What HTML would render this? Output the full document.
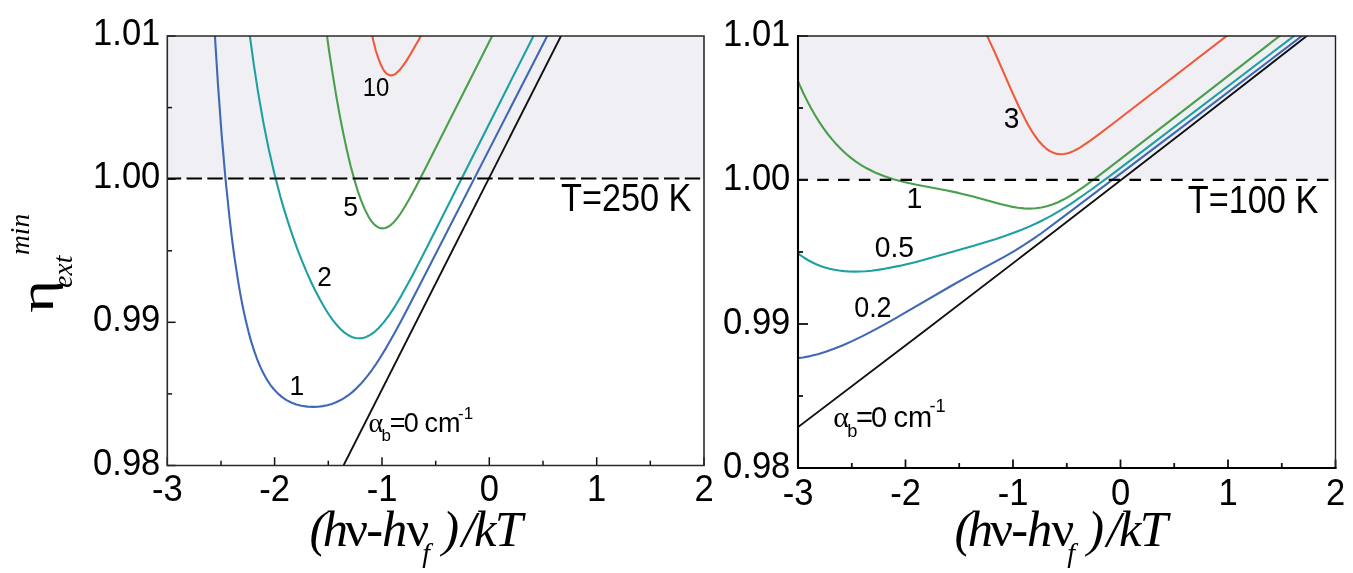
<!DOCTYPE html>
<html><head><meta charset="utf-8"><title>eta_ext min plot</title><style>
html,body{margin:0;padding:0;background:#fff;overflow:hidden;}
svg{display:block;}
.s{font-family:"Liberation Sans",Arial,sans-serif;fill:#000;}
.t{font-family:"Liberation Serif","Times New Roman",serif;fill:#000;}
.i{font-style:italic;}
</style></head><body>
<svg width="1353" height="573" viewBox="0 0 1353 573">
<rect width="1353" height="573" fill="#fff"/>
<rect x="167.3" y="36.0" width="536.7" height="142.5" fill="#efeff4"/>
<clipPath id="cL"><rect x="167.3" y="36.0" width="536.7" height="429.5"/></clipPath>
<g clip-path="url(#cL)" fill="none" stroke-width="2.1" stroke-linejoin="round">
<path d="M214.6 30.9 L218.0 84.9 L221.6 134.2 L225.4 178.0 L229.5 217.7 L231.6 235.7 L233.8 252.5 L236.1 268.2 L238.4 282.8 L240.8 296.6 L243.3 309.2 L245.9 321.1 L248.6 332.1 L251.3 341.9 L254.2 350.9 L257.1 359.2 L260.2 366.6 L263.4 373.3 L266.8 379.4 L270.3 384.8 L274.1 389.5 L278.0 393.6 L282.1 397.1 L286.5 400.1 L291.2 402.5 L296.3 404.4 L301.6 405.8 L307.3 406.6 L313.2 406.9 L318.0 406.7 L322.7 406.1 L327.3 405.2 L331.8 403.9 L336.1 402.3 L340.3 400.3 L344.4 397.9 L348.4 395.2 L352.3 392.1 L356.2 388.6 L360.1 384.6 L364.0 380.2 L367.9 375.4 L371.9 370.0 L376.0 364.1 L380.3 357.5 L386.6 347.1 L393.6 334.8 L401.5 320.2 L411.3 301.6 L550.3 30.0" stroke="#4068b4"/>
<path d="M249.1 30.3 L253.6 63.1 L258.3 93.6 L263.3 122.1 L268.6 148.5 L274.3 173.3 L280.4 196.8 L283.7 208.1 L287.1 219.1 L290.6 229.9 L294.2 240.4 L298.2 251.4 L302.5 262.1 L306.8 272.4 L311.2 282.2 L315.6 291.3 L320.0 299.6 L324.3 307.2 L328.5 314.0 L332.6 319.8 L336.6 324.8 L340.4 329.0 L344.2 332.4 L348.0 335.0 L351.7 336.9 L355.4 338.0 L359.1 338.3 L361.4 338.2 L363.8 337.7 L366.2 336.9 L368.6 335.8 L371.0 334.4 L373.5 332.7 L376.0 330.6 L378.5 328.2 L383.7 322.4 L389.2 315.1 L395.0 306.3 L401.4 295.6 L412.3 275.7 L427.2 246.8 L536.5 30.0" stroke="#1fa0a0"/>
<path d="M326.2 30.1 L329.4 53.0 L332.8 74.9 L336.2 95.6 L339.7 115.2 L343.3 133.4 L346.9 150.2 L350.5 165.4 L354.2 179.1 L357.7 190.8 L361.3 200.9 L364.8 209.4 L368.3 216.3 L370.0 219.2 L371.8 221.6 L373.6 223.7 L375.4 225.4 L377.1 226.7 L378.9 227.7 L380.7 228.2 L382.6 228.4 L385.3 228.0 L388.1 226.8 L391.0 224.8 L394.1 221.9 L397.2 218.1 L400.6 213.5 L404.2 207.8 L408.2 201.0 L415.2 188.3 L424.7 169.7 L495.1 30.1" stroke="#4b9e4b"/>
<path d="M370.9 30.0 L373.4 41.1 L375.8 50.5 L378.3 58.2 L380.7 64.5 L383.2 69.3 L384.4 71.2 L385.7 72.7 L387.0 73.9 L388.3 74.7 L389.6 75.2 L391.0 75.4 L392.3 75.2 L393.7 74.8 L395.1 74.1 L396.5 73.1 L399.6 70.1 L402.9 65.9 L406.6 60.6 L410.9 53.5 L424.3 30.0" stroke="#f05a3c"/>
<path d="M340.8 470.8 L563.6 30.9" stroke="#111" stroke-width="1.9"/>
</g>
<line x1="167.3" y1="178.5" x2="702.5" y2="178.5" stroke="#000" stroke-width="2.2" stroke-dasharray="15.4 5.36" stroke-dashoffset="1.50"/>
<g stroke="#111" stroke-width="1.5"><line x1="167.3" y1="465.5" x2="167.3" y2="457.2"/><line x1="221.0" y1="465.5" x2="221.0" y2="460.7"/><line x1="274.6" y1="465.5" x2="274.6" y2="457.2"/><line x1="328.3" y1="465.5" x2="328.3" y2="460.7"/><line x1="382.0" y1="465.5" x2="382.0" y2="457.2"/><line x1="435.7" y1="465.5" x2="435.7" y2="460.7"/><line x1="489.3" y1="465.5" x2="489.3" y2="457.2"/><line x1="543.0" y1="465.5" x2="543.0" y2="460.7"/><line x1="596.7" y1="465.5" x2="596.7" y2="457.2"/><line x1="650.3" y1="465.5" x2="650.3" y2="460.7"/><line x1="704.0" y1="465.5" x2="704.0" y2="457.2"/><line x1="167.3" y1="465.5" x2="175.6" y2="465.5"/><line x1="167.3" y1="393.9" x2="172.1" y2="393.9"/><line x1="167.3" y1="322.3" x2="175.6" y2="322.3"/><line x1="167.3" y1="250.8" x2="172.1" y2="250.8"/><line x1="167.3" y1="179.2" x2="175.6" y2="179.2"/><line x1="167.3" y1="107.6" x2="172.1" y2="107.6"/><line x1="167.3" y1="36.0" x2="175.6" y2="36.0"/></g>
<path d="M167.3 36.0 H704.0 V465.5" fill="none" stroke="#2a2a2a" stroke-width="1.6"/>
<path d="M167.3 36.0 V465.5 H704.0" fill="none" stroke="#2a2a2a" stroke-width="1.6" stroke-linecap="square"/>
<rect x="798.0" y="36.0" width="537.5" height="143.8" fill="#efeff4"/>
<clipPath id="cR"><rect x="798.0" y="36.0" width="537.5" height="432.0"/></clipPath>
<g clip-path="url(#cR)" fill="none" stroke-width="2.1" stroke-linejoin="round">
<path d="M796.0 76.4 L799.7 85.1 L803.4 93.2 L807.2 100.9 L811.2 108.4 L815.1 115.3 L819.2 121.9 L823.4 128.2 L827.7 134.0 L832.1 139.4 L836.6 144.6 L841.2 149.3 L846.0 153.7 L850.9 157.9 L855.9 161.6 L861.2 165.1 L866.7 168.3 L875.0 172.5 L883.8 176.0 L893.3 179.2 L904.0 182.0 L916.6 184.7 L945.7 190.2 L958.3 192.9 L973.1 196.6 L1000.2 204.1 L1011.0 206.6 L1017.8 207.7 L1024.0 208.4 L1029.9 208.6 L1035.7 208.3 L1041.3 207.5 L1046.8 206.2 L1052.4 204.5 L1058.1 202.2 L1064.0 199.3 L1070.1 195.9 L1076.6 191.7 L1084.1 186.6 L1098.6 175.9 L1125.6 155.2 L1206.3 92.9 L1287.3 30.0" stroke="#4b9e4b"/>
<path d="M796.0 251.9 L799.9 254.8 L803.8 257.5 L807.8 260.0 L812.0 262.2 L816.2 264.2 L820.5 265.9 L825.0 267.4 L829.6 268.7 L834.3 269.7 L839.1 270.5 L844.1 271.1 L849.2 271.5 L854.5 271.6 L859.9 271.5 L865.6 271.2 L871.5 270.7 L877.9 269.9 L884.6 268.8 L899.3 265.9 L916.1 261.9 L937.6 256.0 L973.7 245.7 L996.1 238.9 L1005.4 235.8 L1013.8 232.8 L1021.7 229.8 L1029.1 226.6 L1036.5 223.3 L1043.8 219.7 L1051.0 215.8 L1058.3 211.6 L1065.7 207.1 L1073.4 202.1 L1090.7 190.0 L1110.7 175.3 L1147.6 147.4 L1300.0 31.4" stroke="#1fa0a0"/>
<path d="M796.0 358.4 L802.9 357.5 L810.2 356.1 L817.8 354.2 L825.7 351.7 L834.0 348.8 L842.9 345.2 L852.1 341.1 L862.0 336.4 L875.5 329.4 L890.6 321.1 L905.2 312.7 L951.9 285.5 L969.5 275.6 L1004.6 256.6 L1014.6 250.8 L1023.7 245.2 L1032.1 239.7 L1041.0 233.5 L1065.6 215.2 L1187.0 123.4 L1309.6 30.1" stroke="#4068b4"/>
<path d="M984.2 30.1 L989.1 40.1 L994.5 51.7 L1012.1 91.8 L1018.7 106.2 L1025.5 119.9 L1028.6 125.7 L1031.6 130.8 L1035.4 136.5 L1039.0 141.3 L1042.6 145.3 L1046.2 148.6 L1049.8 151.1 L1053.4 152.8 L1057.1 153.9 L1060.9 154.2 L1063.8 154.0 L1066.8 153.5 L1070.0 152.5 L1073.3 151.1 L1076.9 149.3 L1080.7 147.1 L1089.9 140.9 L1099.5 133.8 L1117.0 120.5 L1234.4 30.0" stroke="#f05a3c"/>
<path d="M796.0 428.7 L924.5 331.0 L1054.3 231.5 L1184.1 131.3 L1313.9 30.4" stroke="#111" stroke-width="1.9"/>
</g>
<line x1="798.0" y1="179.8" x2="1334.0" y2="179.8" stroke="#000" stroke-width="2.2" stroke-dasharray="11.5 9.32" stroke-dashoffset="1.60"/>
<g stroke="#111" stroke-width="1.8"><line x1="798.0" y1="468.0" x2="798.0" y2="459.5"/><line x1="851.8" y1="468.0" x2="851.8" y2="463.0"/><line x1="905.5" y1="468.0" x2="905.5" y2="459.5"/><line x1="959.2" y1="468.0" x2="959.2" y2="463.0"/><line x1="1013.0" y1="468.0" x2="1013.0" y2="459.5"/><line x1="1066.8" y1="468.0" x2="1066.8" y2="463.0"/><line x1="1120.5" y1="468.0" x2="1120.5" y2="459.5"/><line x1="1174.2" y1="468.0" x2="1174.2" y2="463.0"/><line x1="1228.0" y1="468.0" x2="1228.0" y2="459.5"/><line x1="1281.8" y1="468.0" x2="1281.8" y2="463.0"/><line x1="1335.5" y1="468.0" x2="1335.5" y2="459.5"/><line x1="798.0" y1="468.0" x2="808.0" y2="468.0"/><line x1="798.0" y1="396.0" x2="803.0" y2="396.0"/><line x1="798.0" y1="324.0" x2="808.0" y2="324.0"/><line x1="798.0" y1="252.0" x2="803.0" y2="252.0"/><line x1="798.0" y1="180.0" x2="808.0" y2="180.0"/><line x1="798.0" y1="108.0" x2="803.0" y2="108.0"/><line x1="798.0" y1="36.0" x2="808.0" y2="36.0"/></g>
<path d="M798.0 36.0 H1335.5 V468.0" fill="none" stroke="#222" stroke-width="1.4"/>
<path d="M798.0 36.0 V468.0 H1335.5" fill="none" stroke="#000" stroke-width="2.1" stroke-linecap="square"/>
<text class="s" font-size="36.0" text-anchor="end" transform="translate(160.30 474.50) scale(0.960 1)">0.98</text>
<text class="s" font-size="36.0" text-anchor="end" transform="translate(160.30 331.33) scale(0.960 1)">0.99</text>
<text class="s" font-size="36.0" text-anchor="end" transform="translate(160.30 188.17) scale(0.960 1)">1.00</text>
<text class="s" font-size="36.0" text-anchor="end" transform="translate(160.30 45.00) scale(0.960 1)">1.01</text>
<text class="s" font-size="36.0" text-anchor="end" transform="translate(790.30 477.80) scale(0.960 1)">0.98</text>
<text class="s" font-size="36.0" text-anchor="end" transform="translate(790.30 333.80) scale(0.960 1)">0.99</text>
<text class="s" font-size="36.0" text-anchor="end" transform="translate(790.30 189.80) scale(0.960 1)">1.00</text>
<text class="s" font-size="36.0" text-anchor="end" transform="translate(790.30 45.80) scale(0.960 1)">1.01</text>
<text class="s" font-size="36.0" text-anchor="middle" transform="translate(167.30 501.00) scale(0.960 1)">-3</text>
<text class="s" font-size="36.0" text-anchor="middle" transform="translate(274.64 501.00) scale(0.960 1)">-2</text>
<text class="s" font-size="36.0" text-anchor="middle" transform="translate(381.98 501.00) scale(0.960 1)">-1</text>
<text class="s" font-size="36.0" text-anchor="middle" transform="translate(489.32 501.00) scale(0.960 1)">0</text>
<text class="s" font-size="36.0" text-anchor="middle" transform="translate(596.66 501.00) scale(0.960 1)">1</text>
<text class="s" font-size="36.0" text-anchor="middle" transform="translate(704.00 501.00) scale(0.960 1)">2</text>
<text class="s" font-size="36.0" text-anchor="middle" transform="translate(798.00 504.50) scale(0.960 1)">-3</text>
<text class="s" font-size="36.0" text-anchor="middle" transform="translate(905.50 504.50) scale(0.960 1)">-2</text>
<text class="s" font-size="36.0" text-anchor="middle" transform="translate(1013.00 504.50) scale(0.960 1)">-1</text>
<text class="s" font-size="36.0" text-anchor="middle" transform="translate(1120.50 504.50) scale(0.960 1)">0</text>
<text class="s" font-size="36.0" text-anchor="middle" transform="translate(1228.00 504.50) scale(0.960 1)">1</text>
<text class="s" font-size="36.0" text-anchor="middle" transform="translate(1335.50 504.50) scale(0.960 1)">2</text>
<text class="s" font-size="26.2" text-anchor="start" transform="translate(362.65 96.00) scale(0.914 1)" id="lb_10">10</text>
<text class="s" font-size="27.3" text-anchor="start" transform="translate(343.31 215.50) scale(0.974 1)" id="lb_5">5</text>
<text class="s" font-size="27.5" text-anchor="start" transform="translate(317.30 285.90) scale(0.950 1)" id="lb_2">2</text>
<text class="s" font-size="27.3" text-anchor="start" transform="translate(289.61 394.50) scale(0.970 1)" id="lb_1L">1</text>
<text class="s" font-size="30.4" text-anchor="start" transform="translate(1003.73 127.80) scale(0.924 1)" id="lb_3">3</text>
<text class="s" font-size="29.4" text-anchor="start" transform="translate(906.39 207.80) scale(0.970 1)" id="lb_1R">1</text>
<text class="s" font-size="29.3" text-anchor="start" transform="translate(874.73 256.60) scale(0.963 1)" id="lb_0_5">0.5</text>
<text class="s" font-size="28.8" text-anchor="start" transform="translate(854.20 317.10) scale(0.933 1)" id="lb_0_2">0.2</text>
<text class="s" font-size="38.0" text-anchor="start" transform="translate(561.00 211.20) scale(0.902 1)">T=250 K</text>
<text class="s" font-size="38.0" text-anchor="start" transform="translate(1187.80 212.90) scale(0.902 1)">T=100 K</text>
<text class="s" font-size="27" transform="translate(368.5 432.0) scale(1.000)"><tspan class="t" font-size="28" x="0" y="0">&#945;</tspan><tspan font-size="17" x="13.0" y="9.3">b</tspan><tspan x="21.3" y="0">=</tspan><tspan x="35.2" y="0">0</tspan><tspan x="48.5" y="0"> cm</tspan><tspan font-size="17" x="89.5" y="-13.5">-1</tspan></text>
<text class="s" font-size="27" transform="translate(833.2 426.5) scale(1.075)"><tspan class="t" font-size="28" x="0" y="0">&#945;</tspan><tspan font-size="17" x="13.0" y="9.3">b</tspan><tspan x="21.3" y="0">=</tspan><tspan x="35.2" y="0">0</tspan><tspan x="48.5" y="0"> cm</tspan><tspan font-size="17" x="89.5" y="-13.5">-1</tspan></text>
<text class="t i" font-size="50.5"><tspan x="309.4" y="545.8">(</tspan><tspan x="322.7">h</tspan><tspan x="345.2" font-style="normal">&#957;</tspan><tspan x="366.2">-</tspan><tspan x="382.1">h</tspan><tspan x="406.4" font-style="normal">&#957;</tspan><tspan x="422.3" y="562.3" font-size="28">f</tspan><tspan x="442.2" y="545.8">)</tspan><tspan x="461.7">/</tspan><tspan x="474.1">k</tspan><tspan x="494.8">T</tspan></text>
<text class="t i" font-size="50.5"><tspan x="954.4" y="545.8">(</tspan><tspan x="967.7">h</tspan><tspan x="990.2" font-style="normal">&#957;</tspan><tspan x="1011.2">-</tspan><tspan x="1027.1">h</tspan><tspan x="1051.4" font-style="normal">&#957;</tspan><tspan x="1067.3" y="562.3" font-size="28">f</tspan><tspan x="1087.2" y="545.8">)</tspan><tspan x="1106.7">/</tspan><tspan x="1119.1">k</tspan><tspan x="1139.8">T</tspan></text>
<g transform="rotate(-90)">
<text class="t" font-size="49" transform="translate(-312.8 52.7) scale(1.28 1)">&#951;</text>
<text class="t i" font-size="27.5" x="-287.7" y="71.6">ext</text>
<text class="t i" font-size="27.5" x="-255" y="28.6">min</text>
</g>
</svg></body></html>
